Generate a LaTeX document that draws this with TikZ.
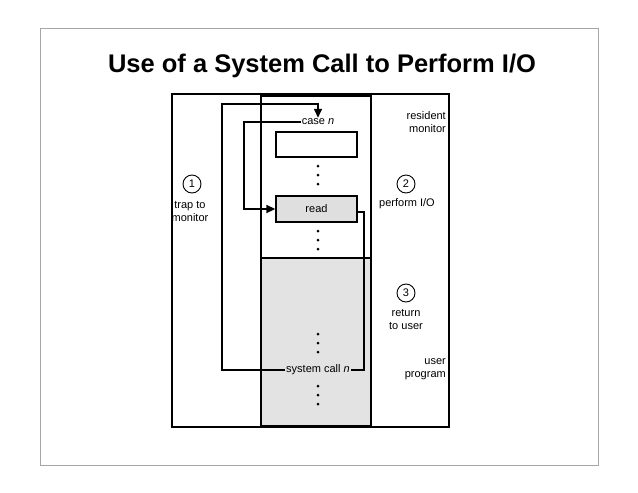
\documentclass[tikz,border=0pt]{standalone}
\usepackage{fontspec}
\setmainfont{Liberation Sans}
\usetikzlibrary{arrows.meta}
\begin{document}
\begin{tikzpicture}[x=1pt,y=-1pt,
  lbl/.style={font=\fontsize{11}{13}\selectfont,align=center,inner sep=1pt},
  num/.style={circle,draw,line width=0.9pt,minimum size=18pt,inner sep=0pt,font=\fontsize{11}{12}\selectfont},
  conn/.style={line width=1.4pt},
  arr/.style={conn,-{Triangle[length=9pt,width=8pt]}},
  dot/.style={circle,fill=black,inner sep=0pt,minimum size=3pt}]
\useasboundingbox (0,0) rectangle (638,493);
\fill[white] (0,0) rectangle (638,493);
\draw[gray!70,line width=0.6pt] (40,28) rectangle (598,465);
\node (title) at (322,66) {\fontsize{25.5}{30}\selectfont\bfseries Use of a System Call to Perform I/O};
\draw[line width=2.5pt] (172,94) rectangle (449,427);
\fill[gray!22] (261,258) rectangle (371,426);
\draw[line width=1.5pt] (261,96) rectangle (371,426);
\draw[line width=1.5pt] (261,258) -- (371,258);
\node[draw,line width=1.3pt,minimum width=81pt,minimum height=25pt] (empty) at (316.5,144.5) {};
\node[draw,line width=1.3pt,fill=gray!25,minimum width=81pt,minimum height=26pt,lbl] (read) at (316.5,209) {read};
\foreach \y in {166,175,184,231,240,249,334,343,352,386,395,404} \node[dot] at (318,\y) {};
\node[lbl,fill=white] (case) at (318,122) {case \textit{n}};
\node[lbl,fill=gray!22] (sys) at (318,370) {system call \textit{n}};
\coordinate (a1) at (222,370); \coordinate (a2) at (222,104); \coordinate (a3) at (318,104);
\draw[arr] (sys.west) -- (a1) -- (a2) -- (a3) -- (case.north);
\coordinate (b1) at (244,122); \coordinate (b2) at (244,209);
\draw[arr] (case.west) -- (b1) -- (b2) -- (read.west);
\coordinate (c0) at (357,212); \coordinate (c1) at (364,212); \coordinate (c2) at (364,370);
\draw[conn] (c0) -- (c1) -- (c2) -- (sys.east);
\node[num] (n1) at (192,184) {1};
\node[lbl] (t1) at (190,211) {trap to\\monitor};
\node[num] (n2) at (406,184) {2};
\node[lbl] (t2) at (407,204) {perform I/O};
\node[num] (n3) at (406,293) {3};
\node[lbl] (t3) at (406,319) {return\\to user};
\node[lbl,align=right,anchor=east] (rm) at (447,122) {resident\\monitor};
\node[lbl,align=right,anchor=east] (up) at (447,369) {user\\program};
\end{tikzpicture}
\end{document}
